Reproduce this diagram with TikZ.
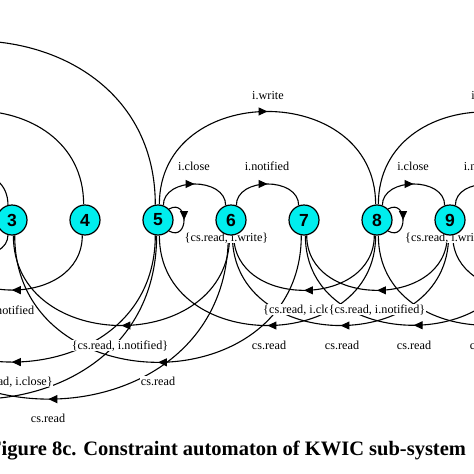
\documentclass[tikz,border=0pt]{standalone}
\usepackage{fontspec}
\setmainfont{Liberation Serif}
\newfontfamily\numfont{Liberation Sans}
\usetikzlibrary{arrows.meta,decorations.markings}
\definecolor{nodecyan}{RGB}{0,238,238}
\pgfdeclarelayer{edgelayer}
\pgfdeclarelayer{labellayer}
\pgfsetlayers{edgelayer,labellayer,main}
\begin{document}
\begin{tikzpicture}[x=1pt,y=-1pt,
  state/.style={circle,draw=black,line width=1.2pt,fill=nodecyan,minimum size=30pt,inner sep=0pt,
    font=\numfont\bfseries\fontsize{17.5}{18}\selectfont},
  edge/.style={line width=1.1pt},
  midarrow/.style={postaction={decorate},decoration={markings,
    mark=at position 0.5 with {\arrow{Triangle[length=9pt,width=8pt]}}}},
  lbl/.style={font=\fontsize{12.2}{14}\selectfont,fill=white,inner sep=0.6pt,anchor=base},
  captext/.style={font=\bfseries\fontsize{20.5}{22}\selectfont,inner sep=0pt,anchor=base west}
]
\useasboundingbox (0,0) rectangle (474,474);

% states
\node[state] (n3) at (12,220) {3};
\node[state] (n4) at (85,220) {4};
\node[state] (n5) at (158,220) {5};
\node[state] (n6) at (231,220) {6};
\node[state] (n7) at (304,220) {7};
\node[state] (n8) at (377,220) {8};
\node[state] (n9) at (450,220) {9};

% off-picture end points
\coordinate (c0t) at (-207,205);
\coordinate (c0b) at (-204.4,234.8);
\coordinate (c1t) at (-134,205);
\coordinate (c1b) at (-131.4,234.8);
\coordinate (c2tr) at (-57.1,205.5);
\coordinate (c2br) at (-57.1,234.5);
\coordinate (c2b) at (-58.4,234.8);
\coordinate (c10tl) at (517.9,205.9);
\coordinate (c10b) at (521.7,235);
\coordinate (c11t) at (593.4,205.2);
\coordinate (c11b) at (593.4,234.8);
\coordinate (c11bb) at (594.7,235);

\begin{pgfonlayer}{edgelayer}
\clip (0,0) rectangle (474,474);
% upper arcs
\draw[edge,midarrow] (c0t) .. controls +(0,-218.7) and +(0,-218.7) .. (n5.100);
\draw[edge,midarrow] (c1t) .. controls +(0,-125.3) and +(0,-125.3) .. (n4.95);
\draw[edge,midarrow] (n5.85) .. controls +(0,-124) and +(0,-124) .. (n8.95);
\draw[edge,midarrow] (n8.85) .. controls +(0,-124) and +(0,-124) .. (c11t);
\draw[edge,midarrow] (n5.70) .. controls +(0,-28.5) and +(0,-28.5) .. (n6.110);
\draw[edge,midarrow] (n6.70) .. controls +(0,-28.5) and +(0,-28.5) .. (n7.110);
\draw[edge,midarrow] (n8.70) .. controls +(0,-28.5) and +(0,-28.5) .. (n9.110);
\draw[edge,midarrow] (n9.70) .. controls +(0,-28.5) and +(0,-28.5) .. (c10tl);
\draw[edge,midarrow] (c2tr) .. controls +(0,-42.7) and +(0,-42.7) .. (n3.105);
% self loops
\draw[edge,midarrow] (n5.45) .. controls +(20,-11) and +(20,11) .. (n5.-45);
\draw[edge,midarrow] (n8.45) .. controls +(20,-11) and +(20,11) .. (n8.-45);
% lower arcs
\draw[edge,midarrow] (n3.-105) .. controls +(0,28) and +(0,28) .. (c2br);
\draw[edge,midarrow] (n4.-100) .. controls +(0,73.3) and +(0,73.3) .. (c2b);
\draw[edge,midarrow] (n8.-100) .. controls +(0,73.3) and +(0,73.3) .. (n6.-80);
\draw[edge,midarrow] (n9.-100) .. controls +(0,73.3) and +(0,73.3) .. (n7.-80);
\draw[edge,midarrow] (c11b) .. controls +(0,73.3) and +(0,73.3) .. (n9.-80);
\draw[edge,midarrow] (n6.-95) .. controls +(0,120) and +(0,120) .. (n3.-85);
\draw[edge,midarrow] (n8.-95) .. controls +(0,120) and +(0,120) .. (n5.-85);
\draw[edge,midarrow] (n9.-95) .. controls +(0,120) and +(0,120) .. (n6.-85);
\draw[edge,midarrow] (c10b) .. controls +(0,120) and +(0,120) .. (n7.-85);
\draw[edge,midarrow] (c11bb) .. controls +(0,120) and +(0,120) .. (n8.-85);
\draw[edge,midarrow] (n5.-100) .. controls +(0,169.3) and +(0,169.3) .. (c1b);
\draw[edge,midarrow] (n7.-100) .. controls +(0,169.3) and +(0,169.3) .. (n3.-80);
\draw[edge,midarrow] (n6.-100) .. controls +(0,218.7) and +(0,218.7) .. (c1b);
\draw[edge,midarrow] (n5.-95) .. controls +(0,218.7) and +(0,218.7) .. (c0b);
\end{pgfonlayer}

\begin{pgfonlayer}{labellayer}
\clip (0,0) rectangle (474,474);
\node[lbl] (l1) at (268,99) {i.write};
\node[lbl] (l2) at (487,99) {i.write};
\node[lbl] (l3) at (194,170) {i.close};
\node[lbl] (l4) at (267,170) {i.notified};
\node[lbl] (l5) at (413,170) {i.close};
\node[lbl] (l6) at (486,170) {i.notified};
\node[lbl] (l7) at (226.5,241) {\{cs.read, i.write\}};
\node[lbl] (l8) at (447,241) {\{cs.read, i.write\}};
\node[lbl] (l9) at (12,314) {i.notified};
\node[lbl] (l10) at (305,313) {\{cs.read, i.close\}};
\node[lbl] (l11) at (377,313) {\{cs.read, i.notified\}};
\node[lbl] (l12) at (120,349) {\{cs.read, i.notified\}};
\node[lbl] (l13) at (269,349) {cs.read};
\node[lbl] (l14) at (342,349) {cs.read};
\node[lbl] (l15) at (414,349) {cs.read};
\node[lbl] (l16) at (487,349) {cs.read};
\node[lbl] (l17) at (11,385) {\{cs.read, i.close\}};
\node[lbl] (l18) at (158,385) {cs.read};
\node[lbl] (l19) at (48,422) {cs.read};
\node[captext] (caption) at (-11,455) {Figure 8c. Constraint automaton of KWIC sub-system};
\end{pgfonlayer}
\end{tikzpicture}
\end{document}
